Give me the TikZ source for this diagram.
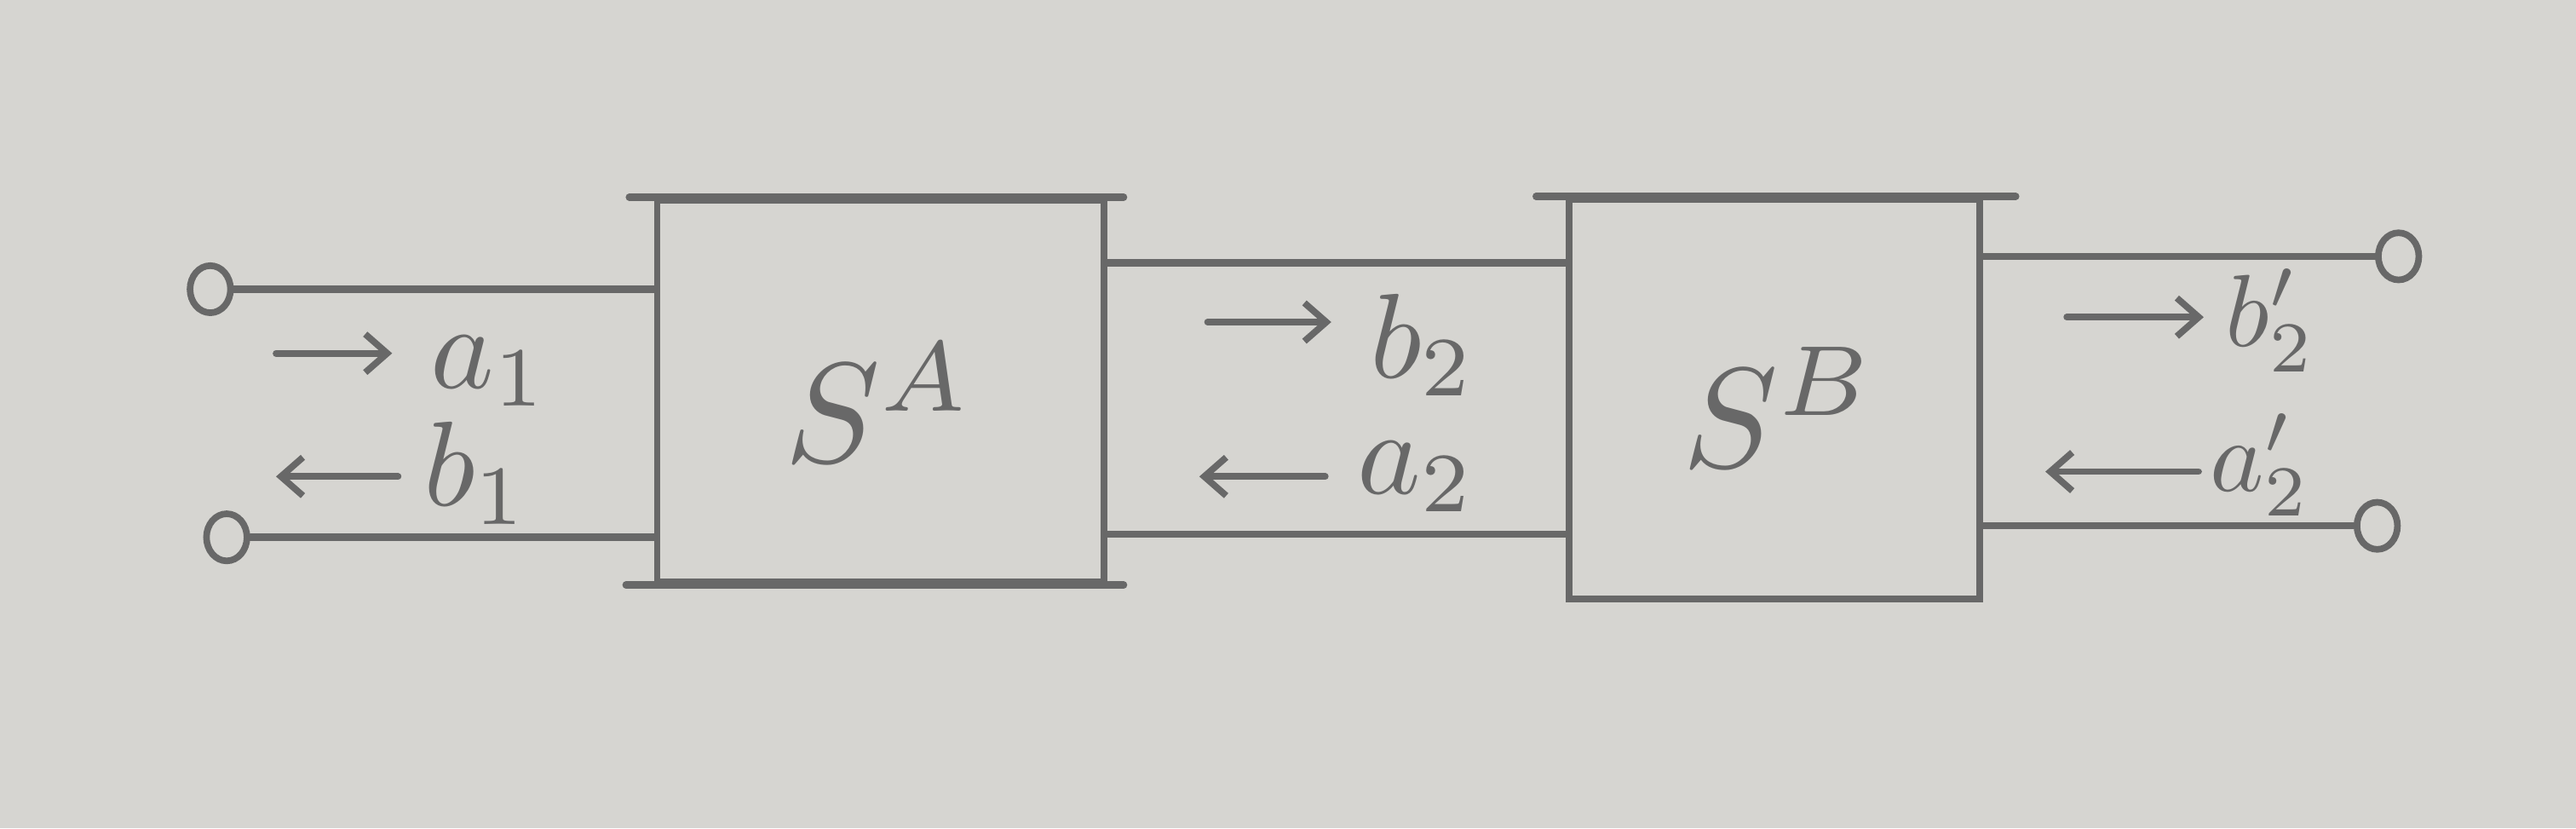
\documentclass[tikz,border=0pt]{standalone}
\usepackage{amsmath,amssymb}
\usepackage{xcolor}
\usepackage{tikz}
\usetikzlibrary{arrows.meta,calc,shapes}
\usetikzlibrary{positioning}

\definecolor{paper}{RGB}{214,213,209}
\definecolor{pencil}{RGB}{104,104,104}

\tikzset{
  wire/.style={draw=pencil,line width=1.3pt,line cap=round},
  block/.style={draw=pencil,line width=1.2pt,rectangle,inner sep=0pt},
  port/.style={draw=pencil,line width=1.2pt,ellipse,minimum width=7.4pt,minimum height=8.6pt,inner sep=0pt},
  wave/.style={draw=pencil,line width=1.2pt,line cap=round,-{Straight Barb[length=4pt,width=7pt]}},
  sig/.style={text=pencil,scale=2.2,inner sep=0pt},
  sname/.style={text=pencil,scale=2.6,inner sep=0pt},
}

\begin{document}
\begin{tikzpicture}[x=0.3pt,y=0.3pt,yscale=-1]
%set diagram left start at 0, and has height of 504
\fill[paper] (0,0) rectangle (1568,504);
\useasboundingbox (0,0) rectangle (1568,504);

%Shape: Rectangle [SA]
\node[block,minimum width=81.6pt,minimum height=69.6pt] (SA) at (536,238) {};
\draw[wire] ($(SA.north west)+(-15,0)$) -- ($(SA.north east)+(10,0)$);
\draw[wire] ($(SA.south west)+(-17,0)$) -- ($(SA.south east)+(10,0)$);
%Shape: Rectangle [SB]
\node[block,minimum width=75pt,minimum height=72.9pt] (SB) at (1080,243) {};
\draw[wire] ($(SB.north west)+(-18,0)$) -- ($(SB.north east)+(20,0)$);

%Shape: Ports
\node[port] (p1) at (128,176) {};
\node[port] (p2) at (138,327) {};
\node[port] (p3) at (1460,156) {};
\node[port] (p4) at (1447,320) {};

%Straight Lines
\coordinate (m1) at (800,160);
\coordinate (m2) at (800,325);
\draw[wire] (p1) -- (p1 -| SA.west);
\draw[wire] (p2) -- (p2 -| SA.west);
\draw[wire] (SA.east |- m1) -- (SB.west |- m1);
\draw[wire] (SA.east |- m2) -- (SB.west |- m2);
\draw[wire] (SB.east |- p3) -- (p3);
\draw[wire] (SB.east |- p4) -- (p4);

% Text Node
\node[sname] (nA) at (535,245) {$S^{A}$};
% Text Node
\node[sname] (nB) at (1083,248) {$S^{B}$};

% Text Node
\node[sig] (a1) at (298,226) {$a_1$};
\coordinate (a1t) at (168,215);
\draw[wave] (a1t) -- ($(a1t -| a1.west)+(-22,0)$);
% Text Node
\node[sig] (b1) at (290,288) {$b_1$};
\coordinate (b1t) at (168,290);
\draw[wave] ($(b1t -| b1.west)+(-14,0)$) -- (b1t);
% Text Node
\node[sig] (b2) at (866,210) {$b_2$};
\coordinate (b2t) at (735,196);
\draw[wave] (b2t) -- ($(b2t -| b2.west)+(-22,0)$);
% Text Node
\node[sig] (a2) at (862,290) {$a_2$};
\coordinate (a2t) at (730,290);
\draw[wave] ($(a2t -| a2.west)+(-18,0)$) -- (a2t);
% Text Node
\node[sig,scale=0.85] (b2p) at (1382,195) {$b_2'$};
\coordinate (b2pt) at (1258,193);
\draw[wave] (b2pt) -- ($(b2pt -| b2p.west)+(-12,0)$);
% Text Node
\node[sig,scale=0.85] (a2p) at (1376,283) {$a_2'$};
\coordinate (a2pt) at (1245,287);
\draw[wave] ($(a2pt -| a2p.west)+(-6,0)$) -- (a2pt);

\end{tikzpicture}
\end{document}
